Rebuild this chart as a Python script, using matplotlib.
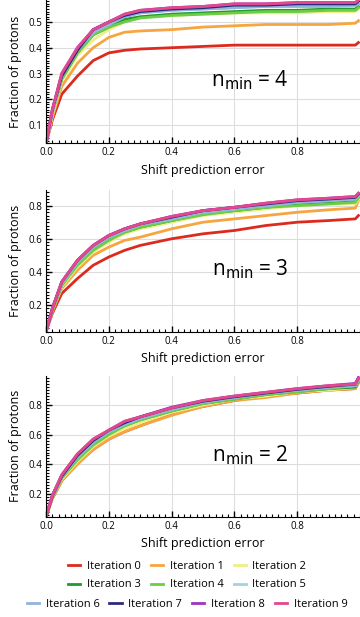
import matplotlib.pyplot as plt
from matplotlib.ticker import MultipleLocator
from matplotlib.lines import Line2D

err = [0.0, 0.02, 0.05, 0.1, 0.15, 0.2, 0.25, 0.3, 0.4, 0.5, 0.6, 0.7, 0.8, 0.9, 0.985, 0.995]

labels = ["Iteration %d" % i for i in range(10)]
colors = ["#dd2a1e", "#f7a540", "#eeee88", "#1f9a2c", "#6ccc48",
          "#9fd3e4", "#93b3da", "#2b2a7e", "#9a35c4", "#e2488c"]

# n_min = 4
frac4 = [
    [0.03, 0.12, 0.22, 0.29, 0.35, 0.38, 0.39, 0.395, 0.40, 0.405, 0.41, 0.41, 0.41, 0.41, 0.41, 0.42],
    [0.03, 0.13, 0.25, 0.34, 0.40, 0.44, 0.46, 0.465, 0.47, 0.48, 0.485, 0.49, 0.49, 0.49, 0.495, 0.505],
    [0.03, 0.14, 0.27, 0.37, 0.43, 0.47, 0.50, 0.52, 0.525, 0.53, 0.535, 0.535, 0.535, 0.54, 0.54, 0.55],
    [0.03, 0.15, 0.28, 0.38, 0.45, 0.48, 0.51, 0.52, 0.53, 0.535, 0.54, 0.545, 0.545, 0.55, 0.55, 0.56],
    [0.03, 0.15, 0.28, 0.38, 0.45, 0.48, 0.50, 0.515, 0.525, 0.53, 0.535, 0.54, 0.54, 0.545, 0.545, 0.555],
    [0.03, 0.15, 0.29, 0.39, 0.46, 0.49, 0.52, 0.535, 0.545, 0.55, 0.555, 0.56, 0.56, 0.56, 0.565, 0.57],
    [0.03, 0.15, 0.29, 0.39, 0.46, 0.49, 0.52, 0.535, 0.545, 0.55, 0.555, 0.56, 0.56, 0.56, 0.565, 0.57],
    [0.03, 0.16, 0.29, 0.39, 0.47, 0.50, 0.525, 0.54, 0.55, 0.555, 0.565, 0.565, 0.57, 0.57, 0.57, 0.58],
    [0.03, 0.16, 0.30, 0.40, 0.47, 0.50, 0.53, 0.545, 0.555, 0.56, 0.57, 0.57, 0.575, 0.575, 0.575, 0.585],
    [0.03, 0.16, 0.30, 0.40, 0.47, 0.50, 0.53, 0.545, 0.555, 0.56, 0.57, 0.57, 0.575, 0.575, 0.575, 0.585],
]

# n_min = 3
frac3 = [
    [0.04, 0.15, 0.27, 0.36, 0.44, 0.49, 0.53, 0.56, 0.60, 0.63, 0.65, 0.68, 0.70, 0.71, 0.72, 0.74],
    [0.04, 0.16, 0.30, 0.41, 0.50, 0.55, 0.59, 0.61, 0.66, 0.70, 0.72, 0.74, 0.76, 0.775, 0.785, 0.83],
    [0.04, 0.17, 0.31, 0.43, 0.52, 0.58, 0.63, 0.66, 0.70, 0.74, 0.76, 0.78, 0.80, 0.81, 0.81, 0.84],
    [0.04, 0.17, 0.32, 0.45, 0.54, 0.60, 0.64, 0.67, 0.71, 0.75, 0.77, 0.79, 0.81, 0.82, 0.83, 0.85],
    [0.04, 0.17, 0.32, 0.44, 0.53, 0.59, 0.64, 0.67, 0.71, 0.745, 0.77, 0.79, 0.80, 0.81, 0.82, 0.85],
    [0.04, 0.18, 0.33, 0.46, 0.55, 0.61, 0.65, 0.685, 0.72, 0.76, 0.78, 0.80, 0.82, 0.83, 0.84, 0.86],
    [0.04, 0.18, 0.33, 0.46, 0.55, 0.61, 0.65, 0.685, 0.72, 0.76, 0.78, 0.80, 0.82, 0.83, 0.84, 0.86],
    [0.04, 0.18, 0.34, 0.47, 0.56, 0.62, 0.66, 0.69, 0.73, 0.77, 0.79, 0.81, 0.83, 0.84, 0.85, 0.87],
    [0.04, 0.18, 0.34, 0.47, 0.56, 0.62, 0.66, 0.69, 0.735, 0.77, 0.79, 0.815, 0.835, 0.845, 0.855, 0.875],
    [0.04, 0.18, 0.34, 0.47, 0.56, 0.62, 0.66, 0.69, 0.735, 0.77, 0.79, 0.815, 0.835, 0.845, 0.855, 0.875],
]

# n_min = 2
frac2 = [
    [0.05, 0.17, 0.29, 0.41, 0.50, 0.57, 0.62, 0.66, 0.74, 0.79, 0.83, 0.86, 0.88, 0.90, 0.91, 0.95],
    [0.05, 0.17, 0.29, 0.40, 0.50, 0.57, 0.62, 0.66, 0.73, 0.79, 0.83, 0.85, 0.88, 0.90, 0.91, 0.95],
    [0.05, 0.18, 0.30, 0.42, 0.52, 0.59, 0.64, 0.68, 0.75, 0.80, 0.84, 0.86, 0.89, 0.90, 0.92, 0.96],
    [0.05, 0.18, 0.31, 0.44, 0.54, 0.61, 0.66, 0.70, 0.76, 0.81, 0.84, 0.87, 0.89, 0.91, 0.92, 0.96],
    [0.05, 0.18, 0.31, 0.43, 0.53, 0.60, 0.66, 0.70, 0.76, 0.81, 0.84, 0.87, 0.89, 0.91, 0.93, 0.96],
    [0.05, 0.19, 0.32, 0.45, 0.55, 0.62, 0.67, 0.71, 0.77, 0.82, 0.85, 0.88, 0.90, 0.92, 0.93, 0.97],
    [0.05, 0.19, 0.32, 0.45, 0.55, 0.62, 0.67, 0.71, 0.77, 0.82, 0.85, 0.88, 0.90, 0.92, 0.93, 0.97],
    [0.05, 0.19, 0.32, 0.46, 0.56, 0.63, 0.68, 0.72, 0.78, 0.825, 0.855, 0.88, 0.905, 0.925, 0.94, 0.98],
    [0.05, 0.19, 0.33, 0.47, 0.57, 0.63, 0.69, 0.72, 0.785, 0.83, 0.86, 0.885, 0.91, 0.93, 0.945, 0.985],
    [0.05, 0.19, 0.33, 0.47, 0.57, 0.63, 0.69, 0.72, 0.78, 0.83, 0.86, 0.885, 0.91, 0.93, 0.94, 0.98],
]

panels = [
    (frac4, "4", (0.03, 0.585), 0.1, 0.01, (0.128, 0.768, 0.872, 0.232)),
    (frac3, "3", (0.039, 0.895), 0.2, 0.02, (0.128, 0.4624, 0.872, 0.2298)),
    (frac2, "2", (0.048, 0.995), 0.2, 0.02, (0.128, 0.1626, 0.872, 0.228)),
]

plt.rcParams['font.family'] = ['Open Sans', 'DejaVu Sans']

fig = plt.figure(figsize=(3.6, 6.17), dpi=100)

for frac, n, ylim, ymaj, ymin, rect in panels:
    ax = fig.add_axes(rect)
    for i in range(10):
        ax.plot(err, frac[i], color=colors[i], lw=2.0, solid_joinstyle='round')
    ax.set_xlim(0, 1.0)
    ax.set_ylim(*ylim)
    ax.set_xticks([0.0, 0.2, 0.4, 0.6, 0.8])
    ax.set_xticklabels(["0.0", "0.2", "0.4", "0.6", "0.8"])
    ax.xaxis.set_minor_locator(MultipleLocator(0.02))
    ax.yaxis.set_major_locator(MultipleLocator(ymaj))
    ax.yaxis.set_minor_locator(MultipleLocator(ymin))
    ticks = [t for t in ax.get_yticks() if ylim[0] <= t <= ylim[1]]
    ax.set_yticks(ticks)
    ax.set_yticklabels(["%.1f" % t for t in ticks])
    ax.tick_params(which='both', direction='in', labelsize=7, pad=3)
    ax.tick_params(which='major', length=4, width=1)
    ax.tick_params(which='minor', length=2, width=0.8)
    ax.grid(True, color='#dddddd', lw=0.8)
    ax.spines['top'].set_visible(False)
    ax.spines['right'].set_visible(False)
    ax.set_xlabel("Shift prediction error", fontsize=9, labelpad=4)
    ax.set_ylabel("Fraction of protons", fontsize=9, labelpad=4)
    ax.text(0.65, 0.44, r"n$_{\mathrm{min}}$ = " + n, transform=ax.transAxes,
            fontsize=15, ha='center', va='center')

handles = [Line2D([], [], color=c, lw=2) for c in colors]
rows = [(range(0, 3), 0.082), (range(3, 6), 0.052), (range(6, 10), 0.020)]
for idx, y in rows:
    fig.legend([handles[i] for i in idx], [labels[i] for i in idx],
               loc='center', bbox_to_anchor=(0.52, y), ncol=len(idx),
               frameon=False, fontsize=8, handlelength=1.1,
               columnspacing=0.9, handletextpad=0.6, borderpad=0.1)

fig.savefig("out.png", dpi=100)
